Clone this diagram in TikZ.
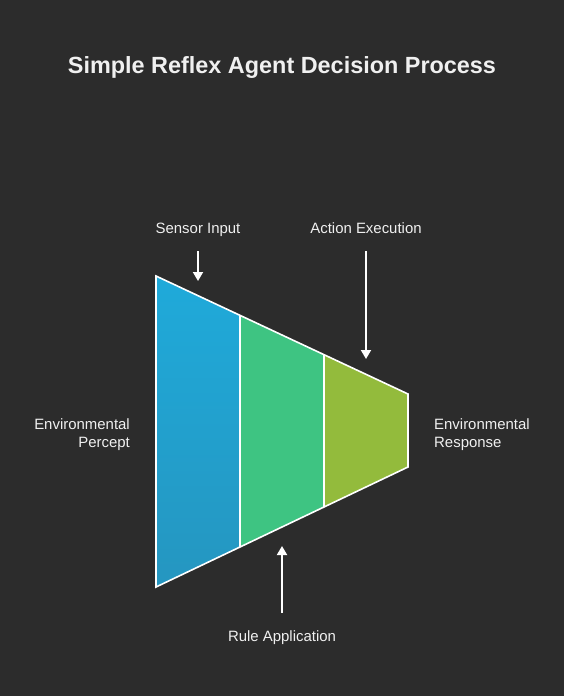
\documentclass[tikz,border=0pt]{standalone}
\usepackage{fontspec}
\setmainfont{Liberation Sans}
\usetikzlibrary{arrows.meta}
\definecolor{bg}{HTML}{2C2C2C}
\definecolor{txt}{HTML}{F0F0F0}
\definecolor{blueA}{HTML}{1FAADA}
\definecolor{blueB}{HTML}{2596C0}
\definecolor{greenA}{HTML}{3EC482}
\definecolor{limeA}{HTML}{93BB3C}
\tikzset{
  lbl/.style={text=txt, font=\fontsize{15}{18}\selectfont, inner sep=0pt},
  ttl/.style={text=txt, font=\bfseries\fontsize{23.5}{28}\selectfont, inner sep=0pt},
  seg/.style={draw=white, line width=1.6bp, line join=miter},
  arr/.style={draw=white, line width=1.8bp, -{Triangle[width=10bp,length=9bp]}},
}
\begin{document}
\begin{tikzpicture}[x=1bp,y=-1bp]
\fill[bg] (0,0) rectangle (564,696);
\useasboundingbox (0,0) rectangle (564,696);
% segments
\shade[top color=blueA, bottom color=blueB] (156,276) -- (240,315.3) -- (240,547) -- (156,587) -- cycle;
\fill[greenA] (240,315.3) -- (324,354.7) -- (324,507) -- (240,547) -- cycle;
\fill[limeA] (324,354.7) -- (408,394) -- (408,467) -- (324,507) -- cycle;
\draw[seg] (156,276) -- (408,394) -- (408,467) -- (156,587) -- cycle;
\draw[seg] (240,315.3) -- (240,547);
\draw[seg] (324,354.7) -- (324,507);
% title
\node[ttl, anchor=base] (title) at (282,74) {Simple Reflex Agent Decision Process};
% labels
\node[lbl, anchor=base] (sensor) at (198,233) {Sensor Input};
\node[lbl, anchor=base] (action) at (366,233) {Action Execution};
\node[lbl, anchor=base] (rule) at (282,641) {Rule Application};
\node[lbl, align=right, anchor=base east] (percept) at (130,447) {Environmental\\Percept};
\node[lbl, align=left, anchor=base west] (response) at (434,447) {Environmental\\Response};
% arrow endpoints
\coordinate (sensorS) at (198,251);
\coordinate (sensorE) at (198,281);
\coordinate (actionS) at (366,251);
\coordinate (actionE) at (366,359);
\coordinate (ruleS) at (282,613);
\coordinate (ruleE) at (282,546);
\draw[arr] (sensorS) -- (sensorE);
\draw[arr] (actionS) -- (actionE);
\draw[arr] (ruleS) -- (ruleE);
\end{tikzpicture}
\end{document}
